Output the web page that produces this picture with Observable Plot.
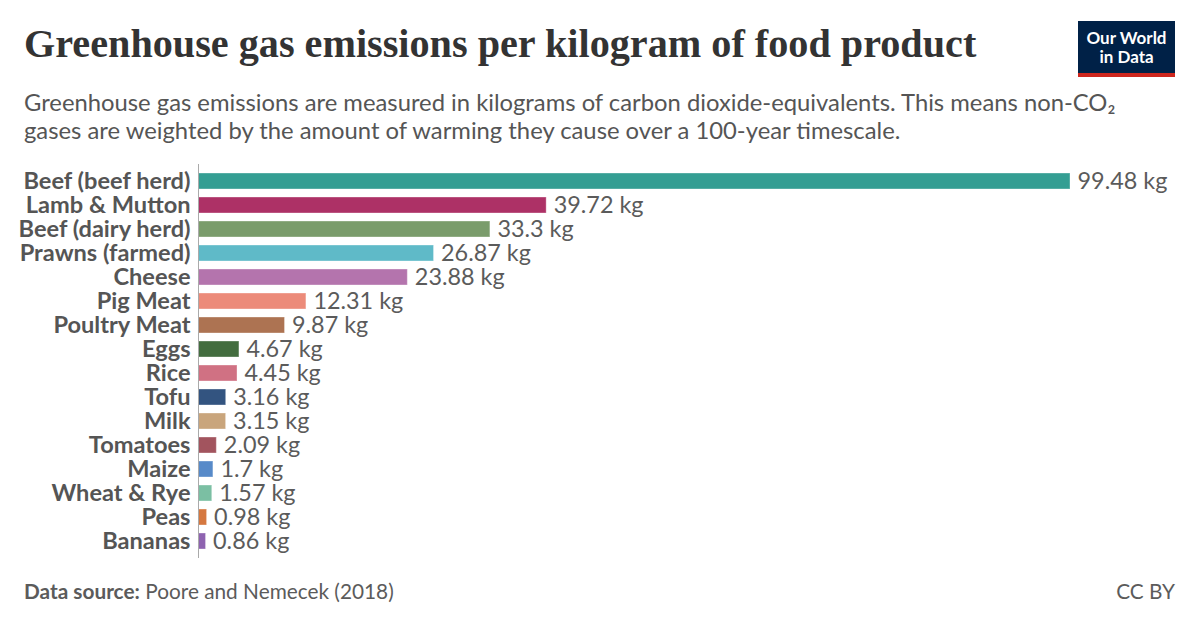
<!DOCTYPE html>
<html><head><meta charset="utf-8">
<script src="https://cdn.jsdelivr.net/npm/d3@7"></script>
<script src="https://cdn.jsdelivr.net/npm/@observablehq/plot@0.6"></script>
<style>
html,body{margin:0;padding:0;background:#fff;}
#wrap{position:relative;width:1200px;height:627px;overflow:hidden;font-family:Lato,"Noto Sans",sans-serif;}
#title{position:absolute;left:24px;top:20px;font-family:"Liberation Serif","DejaVu Serif",serif;font-weight:bold;font-size:40.2px;color:#333;white-space:nowrap;}
#sub{position:absolute;left:24px;top:88px;font-size:23.8px;line-height:28px;color:#555;width:1150px;white-space:nowrap;}
#logo{position:absolute;left:1078px;top:21px;width:97px;height:56px;background:#002147;box-sizing:border-box;border-bottom:4px solid #ce261e;color:#fff;font-size:17px;font-weight:bold;line-height:19px;text-align:center;padding-top:7px;}
#chart{position:absolute;left:0;top:162px;}
#foot{position:absolute;left:24px;top:578px;font-size:20.8px;color:#5b5b5b;}
#cc{position:absolute;right:25px;top:578px;font-size:20.8px;color:#5b5b5b;}
</style></head>
<body><div id="wrap">
<div id="title">Greenhouse gas emissions per kilogram of food product</div>
<div id="sub">Greenhouse gas emissions are measured in kilograms of carbon dioxide-equivalents. This means non-CO₂<br>gases are weighted by the amount of warming they cause over a 100-year timescale.</div>
<div id="logo">Our World<br>in Data</div>
<div id="chart"></div>
<div id="foot"><b>Data source:</b> Poore and Nemecek (2018)</div>
<div id="cc">CC BY</div>
</div>
<script>
const foods = ["Beef (beef herd)","Lamb & Mutton","Beef (dairy herd)","Prawns (farmed)","Cheese","Pig Meat","Poultry Meat","Eggs","Rice","Tofu","Milk","Tomatoes","Maize","Wheat & Rye","Peas","Bananas"];
const values = [99.48,39.72,33.3,26.87,23.88,12.31,9.87,4.67,4.45,3.16,3.15,2.09,1.7,1.57,0.98,0.86];
const colors = ["#349e93","#ad3166","#7a9c6b","#5fbac8","#b474ad","#ec8b7a","#ad7352","#436d3f","#d07183","#335480","#c9a57c","#a2545e","#578ac9","#7bbfa3","#d57840","#8e63b0"];
const data = foods.map((f,i)=>({food:f,value:values[i],color:colors[i]}));
const chart = Plot.plot({
  width:1200, height:398,
  marginLeft:198, marginRight:130, marginTop:2, marginBottom:2,
  x:{domain:[0,99.48], axis:null},
  y:{domain:foods, padding:0.33, axis:null},
  style:{fontFamily:"Lato, sans-serif"},
  marks:[
    Plot.barX(data,{x:"value", y:"food", fill:"color", stroke:"#fff", strokeOpacity:0.35, strokeWidth:1}),
    Plot.ruleX([0],{stroke:"#aaa", strokeWidth:1}),
    Plot.text(data,{x:0, y:"food", text:"food", textAnchor:"end", dx:-8, fontSize:23.6, fontWeight:"bold", fill:"#555"}),
    Plot.text(data,{x:"value", y:"food", text:d=>d.value+" kg", textAnchor:"start", dx:7, fontSize:23.4, fill:"#5b5b5b"})
  ]
});
document.getElementById("chart").appendChild(chart);
</script>
</body></html>
